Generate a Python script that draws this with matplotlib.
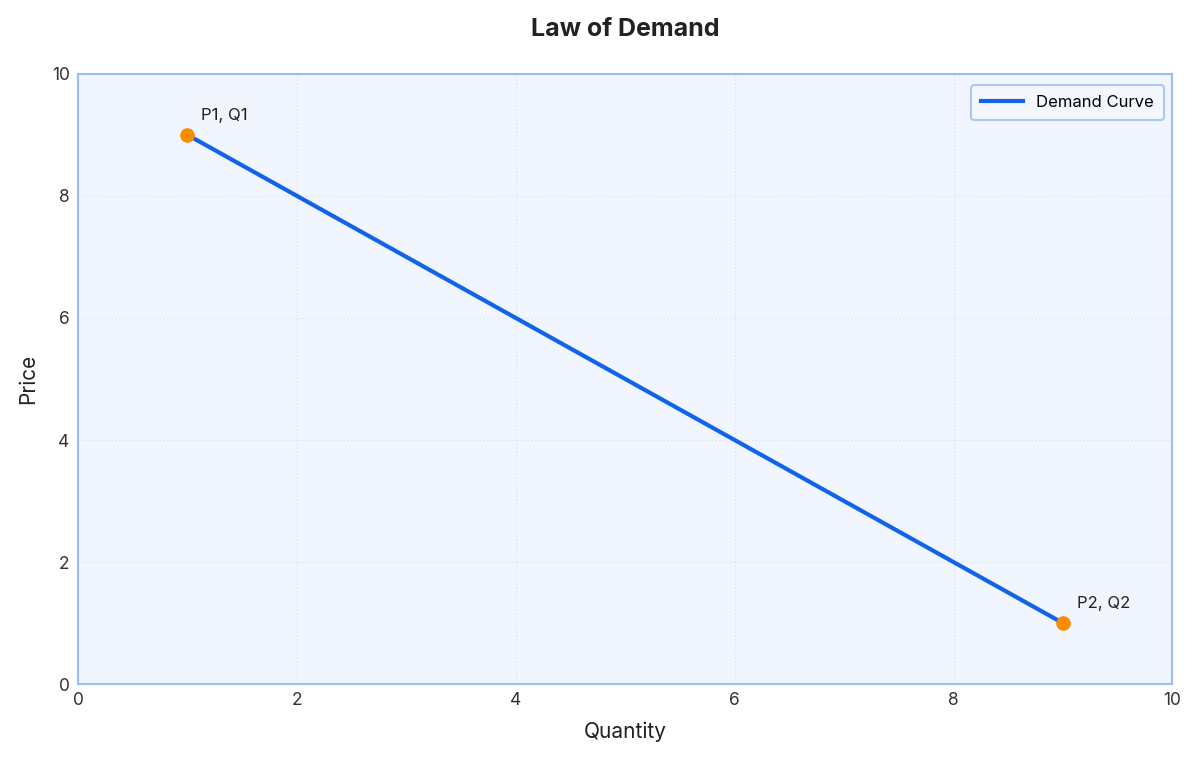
import matplotlib.pyplot as plt

# data
quantity = [1, 9]
price = [9, 1]
point_labels = ['P1, Q1', 'P2, Q2']

plt.rcParams['font.family'] = ['Inter', 'DejaVu Sans']

fig = plt.figure(figsize=(12, 7.61), dpi=100)
ax = fig.add_axes([0.065, 0.101, 0.912, 0.802])
ax.set_facecolor('#f1f6fe')

ax.plot(quantity, price, color='#1363e8', lw=3, label='Demand Curve', zorder=3)
ax.scatter(quantity, price, color='#fb8c00', s=90, zorder=4)
for q, p, lab in zip(quantity, price, point_labels):
    ax.annotate(lab, (q, p), xytext=(10, 11), textcoords='offset points',
                fontsize=12, color='#222222')

ax.set_xlim(0, 10)
ax.set_ylim(0, 10)
ax.set_xticks(range(0, 11, 2))
ax.set_yticks(range(0, 11, 2))
ax.tick_params(length=0, labelsize=12.5, colors='#333333', pad=6)
ax.grid(True, linestyle=':', color='#dde3ec', lw=1)
ax.set_axisbelow(True)
for s in ax.spines.values():
    s.set_color('#9bbcf6')
    s.set_linewidth(1.5)

ax.set_xlabel('Quantity', fontsize=15, color='#222222', labelpad=9)
ax.set_ylabel('Price', fontsize=15, color='#222222', labelpad=10)
ax.set_title('Law of Demand', fontsize=18, fontweight='bold', color='#222222', pad=27)

leg = ax.legend(loc='upper right', fontsize=12, frameon=True, fancybox=True,
                handlelength=2.5, borderpad=0.6, bbox_to_anchor=(1.0, 0.995))
leg.get_frame().set_edgecolor('#9bbcf6')
leg.get_frame().set_linewidth(1.5)
leg.get_frame().set_facecolor('#f5f8fe')

fig.savefig('out.png', dpi=100)
